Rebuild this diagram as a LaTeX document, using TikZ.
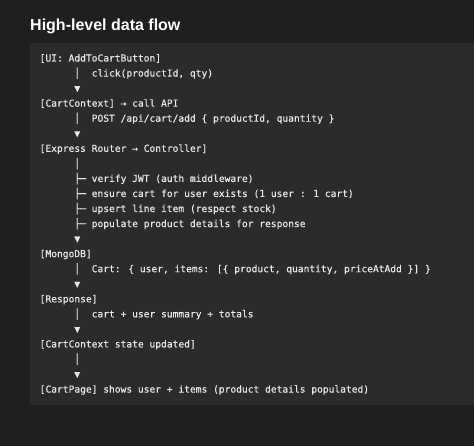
\documentclass[tikz,border=0pt]{standalone}
\usepackage{fontspec}
\setmainfont{Liberation Sans}
\newfontfamily\codefont{DejaVu Sans Mono}[FakeBold=0.4]
\definecolor{pagebg}{HTML}{1F1F1F}
\definecolor{codebg}{HTML}{2B2B2B}
\definecolor{codefg}{HTML}{E8E8E8}
\begin{document}
\begin{tikzpicture}[x=1pt,y=-1pt,
  code/.style={anchor=base west, inner sep=0pt, text=codefg, font=\codefont\fontsize{9.6}{12}\selectfont},
  link/.style={code},
  title/.style={anchor=base west, inner sep=0pt, text=white, font=\bfseries\fontsize{16}{20}\selectfont}]
\fill[pagebg] (0,0) rectangle (474,446);
\useasboundingbox (0,0) rectangle (474,446);
\fill[codebg] (30,43) rectangle (474,405);
\node[title] (title) at (30,31) {High-level data flow};
\begin{scope}[shift={(39.5,61.5)}, x=5.78pt, y=-15.05pt]
  \node[code] (ui) at (0,0) {[UI: AddToCartButton]};
  \node[link] (b1) at (6,1) {│};
  \node[code] (t1) at (9,1) {click(productId, qty)};
  \node[link] (a1) at (6,2) {▼};
  \node[code] (ctx) at (0,3) {[CartContext] → call API};
  \node[link] (b2) at (6,4) {│};
  \node[code] (t2) at (9,4) {POST /api/cart/add \{ productId, quantity \}};
  \node[link] (a2) at (6,5) {▼};
  \node[code] (router) at (0,6) {[Express Router → Controller]};
  \node[link] (b3) at (6,7) {│};
  \node[link] (s1) at (6,8) {├─};
  \node[code] (t3) at (9,8) {verify JWT (auth middleware)};
  \node[link] (s2) at (6,9) {├─};
  \node[code] (t4) at (9,9) {ensure cart for user exists (1 user : 1 cart)};
  \node[link] (s3) at (6,10) {├─};
  \node[code] (t5) at (9,10) {upsert line item (respect stock)};
  \node[link] (s4) at (6,11) {├─};
  \node[code] (t6) at (9,11) {populate product details for response};
  \node[link] (a3) at (6,12) {▼};
  \node[code] (mongo) at (0,13) {[MongoDB]};
  \node[link] (b4) at (6,14) {│};
  \node[code] (t7) at (9,14) {Cart: \{ user, items: [\{ product, quantity, priceAtAdd \}] \}};
  \node[link] (a4) at (6,15) {▼};
  \node[code] (resp) at (0,16) {[Response]};
  \node[link] (b5) at (6,17) {│};
  \node[code] (t8) at (9,17) {cart + user summary + totals};
  \node[link] (a5) at (6,18) {▼};
  \node[code] (state) at (0,19) {[CartContext state updated]};
  \node[link] (b6) at (6,20) {│};
  \node[link] (a6) at (6,21) {▼};
  \node[code] (page) at (0,22) {[CartPage] shows user + items (product details populated)};
\end{scope}
\end{tikzpicture}
\end{document}
